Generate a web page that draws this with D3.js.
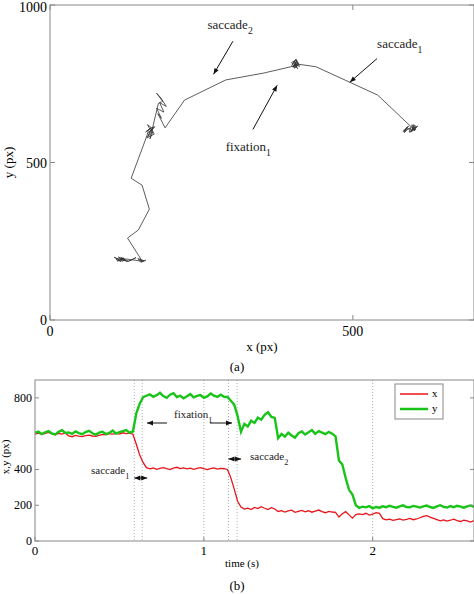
<!DOCTYPE html>
<html><head><meta charset="utf-8">
<script src="https://cdn.jsdelivr.net/npm/d3@7"></script>
<style>
body{margin:0;background:#fff;}
text{font-family:"Liberation Serif","Times New Roman",serif;}
</style></head>
<body><div id="vis"></div>
<script>
// sampled gaze positions, one sample every 0.02 s
var dt = 0.02;
var xs = [598,603,596,601,607,599,594,602,598,604,588,583,590,586,584,589,592,587,585,591,596,593,600,597,602,598,605,600,603,
  597,541,480,439,410,
  403,408,401,406,410,404,399,407,412,405,409,403,407,401,406,410,404,399,405,409,402,406,404,
  400,353,290,222,190,
  178,184,176,188,181,192,183,176,186,179,
  165,170,162,168,172,160,166,171,163,169,161,167,173,164,158,166,162,
  160,134,152,164,146,128,148,
  152,148,155,145,150,158,154,
  125,118,122,115,120,124,117,121,126,119,123,130,138,142,134,127,120,113,118,111,116,122,114,109,117,112,106,114];
var ys = [605,612,598,608,615,601,596,610,620,604,607,599,613,603,597,609,616,602,595,606,611,598,604,617,600,609,614,620,606,
  612,714,768,804,812,
  820,806,815,828,810,800,818,826,805,812,798,809,821,803,811,816,800,808,824,812,805,818,806,
  805,784,762,698,610,
  655,640,672,660,690,678,705,720,694,688,
  575,598,583,605,590,578,602,612,595,608,620,599,614,606,597,610,600,
  585,450,428,352,286,260,200,
  185,192,188,195,183,190,186,194,189,197,191,186,193,199,190,188,196,192,187,194,198,190,185,193,200,191,187,195,189,197,192,186,194,199,190];
var markTimes = [0.588, 0.635, 1.146, 1.197];
var gridTimes = [1, 2];
var topXTicks = [0, 500], topYTicks = [0, 500, 1000];
var botXTicks = [0, 1, 2], botYTicks = [0, 200, 400, 800];

var samples = xs.map(function (x, i) { return { t: i * dt, x: x, y: ys[i] }; });

var svg = d3.select("#vis").append("svg").attr("width", 474).attr("height", 594);

function frame(g, x0, y0, x1, y1) {
  g.append("rect").attr("x", x0).attr("y", y0).attr("width", x1 - x0).attr("height", y1 - y0)
    .attr("fill", "none").attr("stroke", "#888").attr("stroke-width", 1);
}
var m = svg.append("defs").append("marker").attr("id", "ah").attr("viewBox", "0 0 10 10")
  .attr("refX", 10).attr("refY", 5).attr("markerUnits", "userSpaceOnUse")
  .attr("markerWidth", 7).attr("markerHeight", 6).attr("orient", "auto-start-reverse");
m.append("path").attr("d", "M0,1 L10,5 L0,9 z").attr("fill", "#111");

function sub(g, x, y, main, s, size, anchor) {
  var t = g.append("text").attr("x", x).attr("y", y).attr("font-size", size).attr("text-anchor", anchor || "start").attr("fill", "#222");
  t.append("tspan").text(main);
  t.append("tspan").attr("dy", 5).attr("font-size", size * 0.75).text(s);
}
function arrow(g, x1, y1, x2, y2, both) {
  var l = g.append("line").attr("x1", x1).attr("y1", y1).attr("x2", x2).attr("y2", y2)
    .attr("stroke", "#111").attr("stroke-width", 1).attr("marker-end", "url(#ah)");
  if (both) l.attr("marker-start", "url(#ah)");
}

// ---- (a) trajectory
var ax = d3.scaleLinear().domain([0, 700]).range([50, 474]);
var ay = d3.scaleLinear().domain([0, 1000]).range([320, 5]);
var ga = svg.append("g");
frame(ga, 50, 5, 474, 320);
ga.append("path").datum(samples).attr("fill", "none").attr("stroke", "#333").attr("stroke-width", 0.8)
  .attr("d", d3.line().x(function (d) { return ax(d.x); }).y(function (d) { return ay(d.y); }));
topXTicks.forEach(function (v) {
  ga.append("line").attr("x1", ax(v)).attr("x2", ax(v)).attr("y1", 320).attr("y2", 315).attr("stroke", "#888");
  ga.append("line").attr("x1", ax(v)).attr("x2", ax(v)).attr("y1", 5).attr("y2", 10).attr("stroke", "#888");
  ga.append("text").attr("x", ax(v)).attr("y", 336).attr("text-anchor", "middle").attr("font-size", 14).text(v);
});
topYTicks.forEach(function (v) {
  ga.append("line").attr("x1", 50).attr("x2", 55).attr("y1", ay(v)).attr("y2", ay(v)).attr("stroke", "#888");
  ga.append("line").attr("x1", 474).attr("x2", 469).attr("y1", ay(v)).attr("y2", ay(v)).attr("stroke", "#888");
  ga.append("text").attr("x", 47).attr("y", Math.max(ay(v) + 5, 12)).attr("text-anchor", "end").attr("font-size", 14).text(v);
});
ga.append("text").attr("x", 262).attr("y", 351).attr("text-anchor", "middle").attr("font-size", 13).text("x (px)");
ga.append("text").attr("transform", "translate(13," + ay(500) + ") rotate(-90)").attr("text-anchor", "middle").attr("font-size", 13).text("y (px)");
ga.append("text").attr("x", 237).attr("y", 371).attr("text-anchor", "middle").attr("font-size", 13).text("(a)");
sub(ga, ax(260), ay(925), "saccade", "2", 13);
arrow(ga, ax(302), ay(885), ax(270), ay(780));
sub(ga, ax(540), ay(865), "saccade", "1", 13);
arrow(ga, ax(540), ay(830), ax(495), ay(755));
sub(ga, ax(290), ay(535), "fixation", "1", 13);
arrow(ga, ax(335), ay(605), ax(375), ay(745));

// ---- (b) time series
var bx = d3.scaleLinear().domain([0, 2.6]).range([35, 474]);
var by = d3.scaleLinear().domain([0, 900]).range([541, 380]);
var gb = svg.append("g");
markTimes.concat(gridTimes).forEach(function (t) {
  gb.append("line").attr("x1", bx(t)).attr("x2", bx(t)).attr("y1", 380).attr("y2", 541)
    .attr("stroke", "#999").attr("stroke-width", 0.8).attr("stroke-dasharray", "1,2");
});
gb.append("path").datum(samples).attr("fill", "none").attr("stroke", "#e8141a").attr("stroke-width", 1.3)
  .attr("d", d3.line().x(function (d) { return bx(d.t); }).y(function (d) { return by(d.x); }));
gb.append("path").datum(samples).attr("fill", "none").attr("stroke", "#19c419").attr("stroke-width", 2.4)
  .attr("d", d3.line().x(function (d) { return bx(d.t); }).y(function (d) { return by(d.y); }));
frame(gb, 35, 380, 474, 541);
botXTicks.forEach(function (v) {
  gb.append("line").attr("x1", bx(v)).attr("x2", bx(v)).attr("y1", 541).attr("y2", 537).attr("stroke", "#888");
  gb.append("text").attr("x", bx(v)).attr("y", 555).attr("text-anchor", "middle").attr("font-size", 13).text(v);
});
botYTicks.forEach(function (v) {
  gb.append("line").attr("x1", 35).attr("x2", 39).attr("y1", by(v)).attr("y2", by(v)).attr("stroke", "#888");
  gb.append("line").attr("x1", 474).attr("x2", 470).attr("y1", by(v)).attr("y2", by(v)).attr("stroke", "#888");
  gb.append("text").attr("x", 32).attr("y", by(v) + 4).attr("text-anchor", "end").attr("font-size", 12).text(v);
});
gb.append("text").attr("x", 242).attr("y", 567).attr("text-anchor", "middle").attr("font-size", 11).text("time (s)");
gb.append("text").attr("transform", "translate(9," + by(470) + ") rotate(-90)").attr("text-anchor", "middle").attr("font-size", 11).text("x,y (px)");
gb.append("text").attr("x", 237).attr("y", 590).attr("text-anchor", "middle").attr("font-size", 13).text("(b)");
// legend
gb.append("rect").attr("x", 395).attr("y", 384).attr("width", 48).attr("height", 35).attr("fill", "#fff").attr("stroke", "#888");
gb.append("line").attr("x1", 400).attr("x2", 428).attr("y1", 394).attr("y2", 394).attr("stroke", "#e8141a").attr("stroke-width", 1.5);
gb.append("line").attr("x1", 400).attr("x2", 428).attr("y1", 409).attr("y2", 409).attr("stroke", "#19c419").attr("stroke-width", 2.5);
gb.append("text").attr("x", 432).attr("y", 397).attr("font-size", 11).text("x");
gb.append("text").attr("x", 432).attr("y", 412).attr("font-size", 11).text("y");
// annotations
sub(gb, 174, 418, "fixation", "1", 11);
arrow(gb, 167, 423, 147, 423);
arrow(gb, 210, 423, 232, 423);
sub(gb, 250, 460, "saccade", "2", 11);
arrow(gb, bx(1.146), 459, bx(1.197) + 4, 459, true);
sub(gb, 91, 474, "saccade", "1", 11);
arrow(gb, bx(0.588), 478, bx(0.635) + 5, 478, true);
</script></body></html>
